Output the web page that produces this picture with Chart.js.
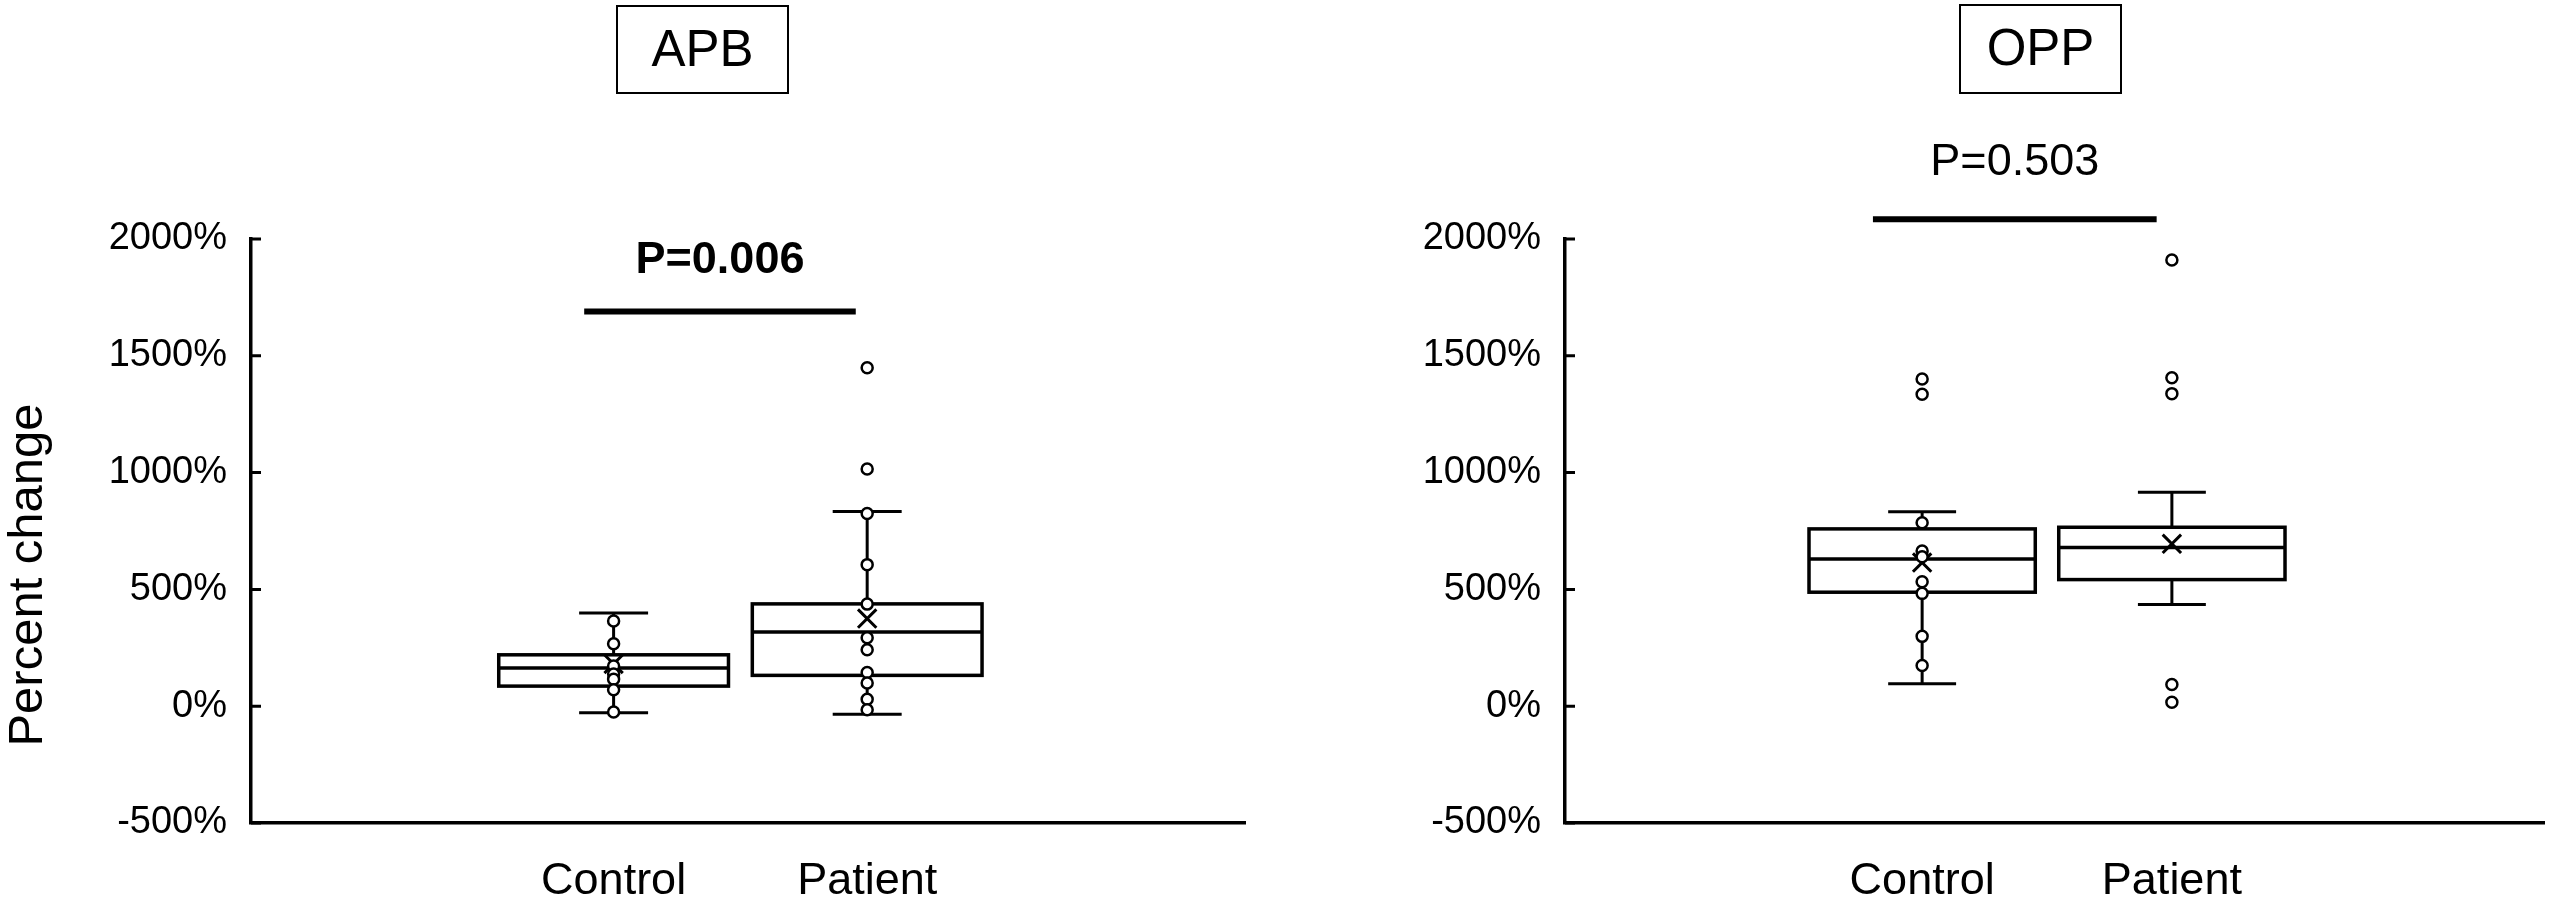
<!DOCTYPE html>
<html><head><meta charset="utf-8">
<script src="https://cdn.jsdelivr.net/npm/chart.js@4.4.0/dist/chart.umd.min.js"></script>
<style>
html,body{margin:0;padding:0;background:#fff;}
#wrap{position:relative;width:2560px;height:902px;overflow:hidden;}
.panel{position:absolute;top:0;height:902px;}
</style></head><body>
<div id="wrap">
<div class="panel" style="left:0;width:1280px"><canvas id="c1"></canvas></div>
<div class="panel" style="left:1280px;width:1280px"><canvas id="c2"></canvas></div>
</div>
<script>
// ---------- data ----------
const categories = ['Control', 'Patient'];
const catPos = [1, 2];
const yTicks = [-500, 0, 500, 1000, 1500, 2000];

// APB panel
const apbWhiskerLow  = [-28, -34];
const apbQ1          = [86, 132];
const apbMedian      = [163, 318];
const apbQ3          = [220, 438];
const apbWhiskerHigh = [399, 834];
const apbMean        = [181, 375];
const apbControlPoints   = [365, 267, 172, 138, 115, 70, -25];
const apbPatientPoints   = [825, 606, 437, 293, 242, 144, 99, 30, -15];
const apbControlOutliers = [];
const apbPatientOutliers = [1449, 1015];
const apbPValue = 'P=0.006';
const apbBar = [0.884, 1.955, 1690];   // x from, x to, y value
const apbPTextY = 1906;

// OPP panel
const oppWhiskerLow  = [96, 435];
const oppQ1          = [488, 542];
const oppMedian      = [630, 679];
const oppQ3          = [759, 766];
const oppWhiskerHigh = [832, 916];
const oppMean        = [615, 695];
const oppControlPoints   = [785, 664, 640, 533, 483, 299, 174];
const oppPatientPoints   = [];
const oppControlOutliers = [1401, 1335];
const oppPatientOutliers = [1910, 1406, 1338, 93, 17];
const oppPValue = 'P=0.503';
const oppBar = [0.803, 1.939, 2085];
const oppPTextY = 2325;

// ---------- styling / layout ----------
const FONT = "'Liberation Sans', Arial, Helvetica, sans-serif";
const xMin = -0.43, xMax = 3.49;
const boxHalf = 0.453, capHalf = 0.136;

function pts(lists) {
  const out = [];
  lists.forEach((vals, i) => vals.forEach(v => out.push({x: catPos[i], y: v})));
  return out;
}

function boxPlugin(c) {
  return {
    id: 'boxplot',
    beforeDatasetsDraw(chart) {
      const ctx = chart.ctx, xs = chart.scales.x, ys = chart.scales.y;
      ctx.save();
      ctx.strokeStyle = '#000';
      ctx.lineCap = 'butt';
      for (let i = 0; i < catPos.length; i++) {
        const cx = xs.getPixelForValue(catPos[i]);
        const l = xs.getPixelForValue(catPos[i] - boxHalf), r = xs.getPixelForValue(catPos[i] + boxHalf);
        const cl = xs.getPixelForValue(catPos[i] - capHalf), cr = xs.getPixelForValue(catPos[i] + capHalf);
        const yLo = ys.getPixelForValue(c.wLo[i]), yHi = ys.getPixelForValue(c.wHi[i]);
        const y1 = ys.getPixelForValue(c.q1[i]), y3 = ys.getPixelForValue(c.q3[i]);
        const ym = ys.getPixelForValue(c.med[i]);
        ctx.lineWidth = 3;
        ctx.beginPath();
        ctx.moveTo(cx, y3); ctx.lineTo(cx, yHi);
        ctx.moveTo(cx, y1); ctx.lineTo(cx, yLo);
        ctx.moveTo(cl, yHi); ctx.lineTo(cr, yHi);
        ctx.moveTo(cl, yLo); ctx.lineTo(cr, yLo);
        ctx.stroke();
        ctx.lineWidth = 3.5;
        ctx.fillStyle = '#fff';
        ctx.fillRect(l, y3, r - l, y1 - y3);
        ctx.strokeRect(l, y3, r - l, y1 - y3);
        ctx.beginPath();
        ctx.moveTo(l, ym); ctx.lineTo(r, ym);
        ctx.stroke();
      }
      const ax = chart.chartArea.left;
      ctx.lineWidth = 3;
      ctx.beginPath();
      yTicks.forEach(v => { const y = ys.getPixelForValue(v); ctx.moveTo(ax, y); ctx.lineTo(ax + 10, y); });
      ctx.stroke();
      ctx.restore();
    },
    afterDraw(chart) {
      const ctx = chart.ctx, xs = chart.scales.x, ys = chart.scales.y;
      ctx.save();
      ctx.fillStyle = '#000';
      ctx.strokeStyle = '#000';
      ctx.font = `45px ${FONT}`;
      ctx.textAlign = 'center';
      ctx.textBaseline = 'middle';
      categories.forEach((t, i) => ctx.fillText(t, xs.getPixelForValue(catPos[i]), 882));
      ctx.lineWidth = 6;
      ctx.beginPath();
      const by = ys.getPixelForValue(c.bar[2]);
      ctx.moveTo(xs.getPixelForValue(c.bar[0]), by);
      ctx.lineTo(xs.getPixelForValue(c.bar[1]), by);
      ctx.stroke();
      ctx.font = `${c.pBold ? 'bold ' : ''}45px ${FONT}`;
      ctx.fillText(c.pText, xs.getPixelForValue((c.bar[0] + c.bar[1]) / 2), ys.getPixelForValue(c.pTextY));
      const tb = c.titleBox;
      ctx.lineWidth = 2;
      ctx.strokeRect(tb[0], tb[1], tb[2], tb[3]);
      ctx.font = `51px ${FONT}`;
      ctx.fillText(c.title, tb[0] + tb[2] / 2, tb[1] + tb[3] / 2 + 2);
      if (c.yTitle) {
        ctx.save();
        ctx.translate(28, 575);
        ctx.rotate(-Math.PI / 2);
        ctx.font = `49px ${FONT}`;
        ctx.fillText(c.yTitle, 0, 0);
        ctx.restore();
      }
      ctx.restore();
    }
  };
}

function makeChart(id, cfg) {
  return new Chart(document.getElementById(id), {
    type: 'scatter',
    data: {
      datasets: [
        {data: pts(cfg.points), pointStyle: 'circle', pointRadius: 5.5, pointBorderWidth: 2.5,
         pointBackgroundColor: '#fff', pointBorderColor: '#000'},
        {data: pts(cfg.outliers), pointStyle: 'circle', pointRadius: 5.5, pointBorderWidth: 2.5,
         pointBackgroundColor: '#fff', pointBorderColor: '#000'},
        {data: pts(cfg.mean.map(v => [v])), pointStyle: 'crossRot', pointRadius: 13, pointBorderWidth: 3,
         pointBackgroundColor: '#000', pointBorderColor: '#000'}
      ]
    },
    options: {
      responsive: true, maintainAspectRatio: false, animation: false, devicePixelRatio: 1,
      layout: {padding: {top: 239, left: 0, right: cfg.rightPad, bottom: 0}},
      plugins: {legend: {display: false}, tooltip: {enabled: false}},
      scales: {
        x: {type: 'linear', min: xMin, max: xMax,
            grid: {display: false, drawTicks: false},
            border: {display: true, color: '#000', width: 3.5},
            ticks: {display: false},
            afterFit: s => { s.height = 79; }},
        y: {type: 'linear', min: -500, max: 2000,
            afterBuildTicks: s => { s.ticks = yTicks.map(v => ({value: v})); },
            grid: {display: false, drawTicks: false},
            border: {display: true, color: '#000', width: 3.5},
            ticks: {callback: v => v + '%', color: '#000', padding: 24, font: {family: FONT, size: 38}},
            afterFit: s => { s.width = cfg.yWidth; }}
      }
    },
    plugins: [boxPlugin(cfg)]
  });
}

makeChart('c1', {
  wLo: apbWhiskerLow, q1: apbQ1, med: apbMedian, q3: apbQ3, wHi: apbWhiskerHigh, mean: apbMean,
  points: [apbControlPoints, apbPatientPoints], outliers: [apbControlOutliers, apbPatientOutliers],
  pText: apbPValue, pBold: true, bar: apbBar, pTextY: apbPTextY,
  title: 'APB', titleBox: [617, 6, 171, 87], yTitle: 'Percent change',
  yWidth: 251, rightPad: 35
});
makeChart('c2', {
  wLo: oppWhiskerLow, q1: oppQ1, med: oppMedian, q3: oppQ3, wHi: oppWhiskerHigh, mean: oppMean,
  points: [oppControlPoints, oppPatientPoints], outliers: [oppControlOutliers, oppPatientOutliers],
  pText: oppPValue, pBold: false, bar: oppBar, pTextY: oppPTextY,
  title: 'OPP', titleBox: [680, 5, 161, 88], yTitle: null,
  yWidth: 285, rightPad: 0
});
</script>
</body></html>
